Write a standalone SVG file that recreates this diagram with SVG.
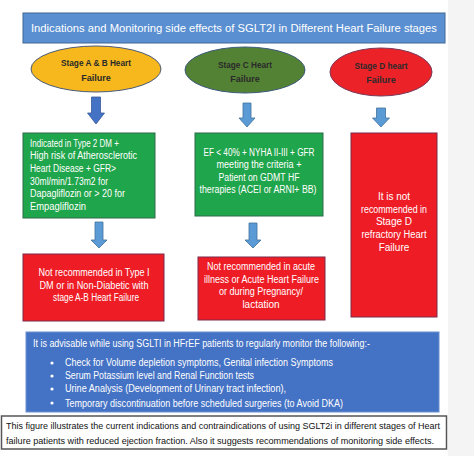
<svg xmlns="http://www.w3.org/2000/svg" width="474" height="456" viewBox="0 0 474 456">
<style>
text{font-family:"Liberation Sans",Arial,sans-serif;}
.w{fill:#fff;font-size:10px;}
.c{text-anchor:middle;}
.e{fill:#2a2a2a;font-size:9px;font-weight:bold;text-anchor:middle;}
.k{fill:#111;font-size:9.5px;}
.g{fill:#1fa54b;stroke:#2f6a4a;stroke-width:1;}
.r{fill:#ee1c25;stroke:#7a2a4a;stroke-width:1;}
.a1{fill:#4472c4;stroke:#35589a;stroke-width:0.8;}
.a2{fill:#5b9bd5;stroke:#41719c;stroke-width:0.8;}
</style>
<rect x="0" y="0" width="474" height="456" fill="#fff"/>
<rect x="448" y="0" width="26" height="456" fill="#f4f4f4"/>

<g id="title">
<rect x="23" y="13" width="422" height="30" fill="#5a8fd1" stroke="#3f6894" stroke-width="1"/>
<text x="234" y="32" class="w c" font-size="11" textLength="406" lengthAdjust="spacingAndGlyphs">Indications and Monitoring side effects of SGLT2I in Different Heart Failure stages</text>
</g>

<g id="stageAB">
<ellipse cx="96" cy="69" rx="65" ry="23" fill="#f6b81c" stroke="#4a5a78" stroke-width="1"/>
<text x="96" y="66" class="e" textLength="70" lengthAdjust="spacingAndGlyphs">Stage A &amp; B Heart</text>
<text x="96" y="80.5" class="e">Failure</text>
</g>
<g id="stageC">
<ellipse cx="245" cy="70" rx="60" ry="23" fill="#548235" stroke="#3b5a7a" stroke-width="1"/>
<text x="245" y="67.5" class="e" textLength="54" lengthAdjust="spacingAndGlyphs">Stage C Heart</text>
<text x="245" y="82" class="e">Failure</text>
</g>
<g id="stageD">
<ellipse cx="381" cy="72" rx="51" ry="24" fill="#ec2229" stroke="#7a3a5a" stroke-width="1"/>
<text x="381" y="68.5" class="e" textLength="53" lengthAdjust="spacingAndGlyphs">Stage D heart</text>
<text x="381" y="82.5" class="e">Failure</text>
</g>

<g id="indAB">
<rect x="23" y="133" width="132" height="85" class="g"/>
<text x="30" y="146.5" class="w" textLength="89" lengthAdjust="spacingAndGlyphs">Indicated in Type 2 DM +</text>
<text x="30" y="159.2" class="w" textLength="107" lengthAdjust="spacingAndGlyphs">High risk of Atherosclerotic</text>
<text x="30" y="171.9" class="w" textLength="86" lengthAdjust="spacingAndGlyphs">Heart Disease + GFR&gt;</text>
<text x="30" y="184.6" class="w" textLength="78" lengthAdjust="spacingAndGlyphs">30ml/min/1.73m2 for</text>
<text x="30" y="197.3" class="w" textLength="95" lengthAdjust="spacingAndGlyphs">Dapagliflozin or &gt; 20 for</text>
<text x="30" y="210" class="w" textLength="56" lengthAdjust="spacingAndGlyphs">Empagliflozin</text>
</g>
<g id="indC">
<rect x="195" y="133" width="128" height="83" class="g"/>
<text x="259" y="155.5" class="w c" textLength="111" lengthAdjust="spacingAndGlyphs">EF &lt; 40% + NYHA II-III + GFR</text>
<text x="259" y="168" class="w c" textLength="85" lengthAdjust="spacingAndGlyphs">meeting the criteria +</text>
<text x="259" y="180.5" class="w c" textLength="81" lengthAdjust="spacingAndGlyphs">Patient on GDMT HF</text>
<text x="258" y="193" class="w c" textLength="117" lengthAdjust="spacingAndGlyphs">therapies (ACEI or ARNI+ BB)</text>
</g>
<g id="notD">
<rect x="351" y="133" width="86" height="184" class="r"/>
<text x="394" y="200" class="w c">It is not</text>
<text x="394" y="212.7" class="w c" textLength="66" lengthAdjust="spacingAndGlyphs">recommended in</text>
<text x="394" y="225.4" class="w c">Stage D</text>
<text x="394" y="238.1" class="w c" textLength="65" lengthAdjust="spacingAndGlyphs">refractory Heart</text>
<text x="394" y="250.8" class="w c">Failure</text>
</g>
<g id="notAB">
<rect x="23" y="254" width="141" height="67" class="r"/>
<text x="94" y="276" class="w c" textLength="111" lengthAdjust="spacingAndGlyphs">Not recommended in Type I</text>
<text x="94" y="288.5" class="w c" textLength="109" lengthAdjust="spacingAndGlyphs">DM or in Non-Diabetic with</text>
<text x="96" y="301" class="w c" textLength="86" lengthAdjust="spacingAndGlyphs">stage A-B Heart Failure</text>
</g>
<g id="notC">
<rect x="198" y="257" width="127" height="63" class="r"/>
<text x="261" y="270" class="w c" textLength="108" lengthAdjust="spacingAndGlyphs">Not recommended in acute</text>
<text x="261.5" y="282.6" class="w c" textLength="115" lengthAdjust="spacingAndGlyphs">illness or Acute Heart Failure</text>
<text x="261" y="295.2" class="w c" textLength="84" lengthAdjust="spacingAndGlyphs">or during Pregnancy/</text>
<text x="261" y="307.8" class="w c">lactation</text>
</g>

<g id="monitor">
<rect x="26" y="332" width="413" height="80" fill="#4472c4" stroke="#6a8fd0" stroke-width="1"/>
<text x="33" y="346.5" class="w" textLength="337" lengthAdjust="spacingAndGlyphs">It is advisable while using SGLTI in HFrEF patients to regularly monitor the following:-</text>
<g fill="#fff">
<circle cx="52" cy="363" r="1.6"/>
<circle cx="52" cy="376" r="1.6"/>
<circle cx="52" cy="389" r="1.6"/>
<circle cx="52" cy="403" r="1.6"/>
</g>
<text x="65" y="366" class="w" textLength="268" lengthAdjust="spacingAndGlyphs">Check for Volume depletion symptoms, Genital infection Symptoms</text>
<text x="65" y="379" class="w" textLength="189" lengthAdjust="spacingAndGlyphs">Serum Potassium level and Renal Function tests</text>
<text x="65" y="392.3" class="w" textLength="221" lengthAdjust="spacingAndGlyphs">Urine Analysis (Development of Urinary tract infection),</text>
<text x="65" y="406.5" class="w" textLength="278" lengthAdjust="spacingAndGlyphs">Temporary discontinuation before scheduled surgeries (to Avoid DKA)</text>
</g>

<g id="caption">
<rect x="1.5" y="416" width="445" height="33" fill="#fff" stroke="#555" stroke-width="1.5"/>
<text x="6" y="429" class="k" textLength="434" lengthAdjust="spacingAndGlyphs">This figure illustrates the current indications and contraindications of using SGLT2i in different stages of Heart</text>
<text x="6" y="443.5" class="k" textLength="428" lengthAdjust="spacingAndGlyphs">failure patients with reduced ejection fraction. Also it suggests recommendations of monitoring side effects.</text>
</g>

<g id="connectors">
<polygon class="a1" points="91.5,97 100.5,97 100.5,113 104.5,113 96,124 87.5,113 91.5,113"/>
<polygon class="a2" points="243,103 251,103 251,118 255,118 247,127 239,118 243,118"/>
<polygon class="a2" points="376.5,108 385.5,108 385.5,118 389.5,118 381,127 372.5,118 376.5,118"/>
<polygon class="a2" points="95,222 103,222 103,240 107,240 99,248 91,240 95,240"/>
<polygon class="a2" points="249,223 257,223 257,240 261,240 253,248 245,240 249,240"/>
</g>
</svg>
